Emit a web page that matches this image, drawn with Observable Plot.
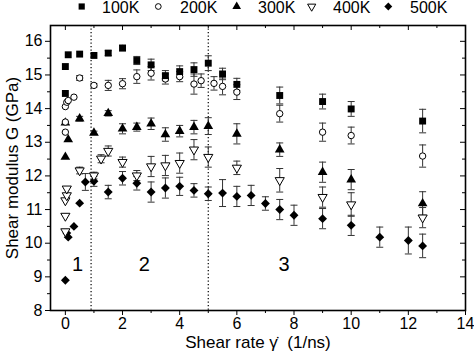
<!DOCTYPE html>
<html><head><meta charset="utf-8">
<script src="https://cdn.jsdelivr.net/npm/d3@7"></script>
<script src="https://cdn.jsdelivr.net/npm/@observablehq/plot@0.6"></script>
<style>
body{margin:0;background:#fff;font-family:"Liberation Sans",Arial,sans-serif;}
#wrap{position:relative;width:474px;height:356px;overflow:hidden;background:#fff;}
#legend{position:absolute;left:0;top:0;}
</style></head><body><div id="wrap"></div>
<script>
// ---- data ----
const x100 = [0, 0, 0.1, 0.5, 1.0, 1.5, 2.0, 2.5, 3.0, 3.5, 4.0, 4.5, 5.0, 5.5, 6.0, 7.5, 9.0, 10.0, 12.5];
const g100 = [14.45, 15.25, 15.6, 15.62, 15.58, 15.65, 15.8, 15.43, 15.3, 14.98, 15.1, 15.16, 15.35, 15.03, 14.72, 14.39, 14.21, 13.99, 13.63];
const e100 = [0, 0, 0, 0, 0, 0.07, 0.08, 0.12, 0.17, 0.15, 0.17, 0.2, 0.22, 0.17, 0.18, 0.25, 0.22, 0.22, 0.35];

const x200 = [0, 0, 0, 0.05, 0.1, 0.3, 0.5, 1.0, 1.5, 2.0, 2.5, 3.0, 3.5, 4.0, 4.5, 4.75, 5.2, 5.5, 6.0, 7.5, 9.0, 10.0, 12.5];
const g200 = [13.3, 13.6, 14.06, 14.19, 14.24, 14.34, 14.91, 14.69, 14.69, 14.74, 14.95, 15.05, 14.88, 14.95, 14.73, 14.83, 14.75, 14.66, 14.49, 13.85, 13.3, 13.2, 12.59];
const e200 = [0, 0, 0, 0, 0, 0, 0.07, 0.05, 0.15, 0.15, 0.2, 0.2, 0.15, 0.15, 0.3, 0.2, 0.2, 0.25, 0.22, 0.25, 0.27, 0.25, 0.33];

const x300 = [0, 0, 0.1, 0.5, 1.0, 1.5, 2.0, 2.5, 3.0, 3.5, 4.0, 4.5, 5.0, 6.0, 7.5, 9.0, 10.0, 12.5];
const g300 = [12.56, 13.58, 13.08, 13.7, 13.28, 13.86, 13.4, 13.45, 13.55, 13.23, 13.33, 13.45, 13.48, 13.25, 12.78, 12.11, 11.89, 11.18];
const e300 = [0, 0, 0, 0.07, 0.05, 0.08, 0.15, 0.12, 0.17, 0.2, 0.17, 0.2, 0.25, 0.3, 0.2, 0.3, 0.3, 0.35];

const x400 = [0, 0, 0, 0.05, 0.05, 0.5, 1.0, 1.25, 1.5, 2.0, 2.5, 3.0, 3.5, 4.0, 4.5, 5.0, 6.0, 7.5, 9.0, 10.0, 12.5];
const g400 = [10.35, 10.81, 11.27, 11.42, 11.62, 12.16, 12.01, 12.51, 12.74, 12.41, 12.01, 12.28, 12.31, 12.38, 12.78, 12.56, 12.24, 11.87, 11.37, 11.15, 10.76];
const e400 = [0, 0, 0, 0, 0, 0.1, 0.1, 0.12, 0.15, 0.15, 0.15, 0.3, 0.3, 0.3, 0.3, 0.3, 0.2, 0.35, 0.3, 0.35, 0.3];

const x500 = [0, 0.05, 0.1, 0.3, 0.5, 0.7, 1.0, 1.5, 2.0, 2.5, 3.0, 3.5, 4.0, 4.5, 5.0, 5.5, 6.0, 6.5, 7.0, 7.5, 8.0, 9.0, 10.0, 11.0, 12.0, 12.5];
const g500 = [8.9, 10.3, 10.18, 10.5, 11.19, 11.82, 11.84, 11.52, 11.93, 11.78, 11.52, 11.64, 11.69, 11.57, 11.47, 11.49, 11.39, 11.42, 11.18, 11.0, 10.83, 10.73, 10.53, 10.18, 10.08, 9.92];
const e500 = [0, 0, 0, 0, 0, 0.25, 0.15, 0.2, 0.2, 0.2, 0.3, 0.3, 0.27, 0.2, 0.2, 0.4, 0.3, 0.3, 0.2, 0.3, 0.3, 0.3, 0.3, 0.3, 0.4, 0.35];

const seriesNames = ["100K", "200K", "300K", "400K", "500K"];
const regionBounds = [0.9, 5.0];
const regionLabels = ["1", "2", "3"];
const regionX = [0.43, 2.76, 7.65];
const regionY = [9.37, 9.37, 9.37];
const xMajor = [0, 2, 4, 6, 8, 10, 12, 14];
const xMinor = [1, 3, 5, 7, 9, 11, 13];
const yMajor = [8, 9, 10, 11, 12, 13, 14, 15, 16];
const yMinor = [8.5, 9.5, 10.5, 11.5, 12.5, 13.5, 14.5, 15.5, 16.5].filter(v => v < 16.47);
const xLabel = "Shear rate \u03B3\u0307  (1/ns)";
const yLabel = "Shear modulus G (GPa)";

// ---- symbols ----
const capSym = {draw(ctx) { ctx.moveTo(-3.5, 0); ctx.lineTo(3.5, 0); }};
const downTri = {draw(ctx, size) {
  const y = Math.sqrt(size / (3 * Math.sqrt(3)));
  ctx.moveTo(0, 2 * y); ctx.lineTo(-Math.sqrt(3) * y, -y); ctx.lineTo(Math.sqrt(3) * y, -y); ctx.closePath();
}};
const styles = {
  "100K": {symbol: "square", fill: "black", stroke: "none", r: 3.9},
  "200K": {symbol: "circle", fill: "white", stroke: "black", r: 3.2},
  "300K": {symbol: "triangle", fill: "black", stroke: "none", r: 3.6},
  "400K": {symbol: downTri, fill: "white", stroke: "black", r: 3.4},
  "500K": {symbol: "diamond2", fill: "black", stroke: "none", r: 4.0}
};
const seriesData = [[x100, g100, e100], [x200, g200, e200], [x300, g300, e300], [x400, g400, e400], [x500, g500, e500]];
const rows = seriesData.flatMap(([xs, gs, es], k) => xs.map((x, i) => ({series: seriesNames[k], x, g: gs[i], e: es[i]})));
const errRows = rows.filter(d => d.e > 0);
const caps = errRows.flatMap(d => [{x: d.x, y: d.g - d.e}, {x: d.x, y: d.g + d.e}]);

const W = 474, H = 356, mL = 50, mR = 9, mT = 25, mB = 46;
const pw = W - mL - mR, ph = H - mT - mB;
const font = "Liberation Sans, Arial, sans-serif";

const plot = Plot.plot({
  width: W, height: H,
  marginLeft: mL, marginRight: mR, marginTop: mT, marginBottom: mB,
  style: {fontFamily: font, fontSize: "16px", color: "black", background: "white"},
  x: {domain: [-0.52, 14], label: null},
  y: {domain: [8, 16.47], label: null},
  marks: [
    Plot.ruleX(regionBounds, {x: d => d, stroke: "black", strokeWidth: 1.2, strokeDasharray: "1.3,2.2"}),
    Plot.ruleX(errRows, {x: "x", y1: d => d.g - d.e, y2: d => d.g + d.e, stroke: "#333", strokeWidth: 1}),
    Plot.dot(caps, {x: "x", y: "y", symbol: capSym, r: 4, stroke: "#333", strokeWidth: 1}),
    ...seriesNames.slice().reverse().map(name => Plot.dot(rows.filter(d => d.series === name), {
      x: "x", y: "g", symbol: styles[name].symbol, r: styles[name].r,
      fill: styles[name].fill, stroke: styles[name].stroke, strokeWidth: 1
    })),
    Plot.text(regionLabels, {x: (d, i) => regionX[i], y: (d, i) => regionY[i], text: d => d, fontSize: 20, fill: "black"}),
    Plot.frame({stroke: "black", strokeWidth: 1.6}),
    Plot.axisX(xMajor, {tickSize: 5, tickPadding: 2, fontSize: 16, tickFormat: d => String(d), stroke: "black"}),
    Plot.axisX(xMinor, {tickSize: 3, tickFormat: () => "", stroke: "black"}),
    Plot.axisY(yMajor, {tickSize: 5, tickPadding: 3, fontSize: 16, tickFormat: d => String(d), stroke: "black"}),
    Plot.axisY(yMinor, {tickSize: 3, tickFormat: () => "", stroke: "black"}),
    Plot.tickX(xMajor, {x: d => d, insetBottom: ph - 5, stroke: "black"}),
    Plot.tickX(xMinor, {x: d => d, insetBottom: ph - 3, stroke: "black"}),
    Plot.tickY(yMajor, {y: d => d, insetLeft: pw - 5, stroke: "black"}),
    Plot.tickY(yMinor, {y: d => d, insetLeft: pw - 3, stroke: "black"}),
    Plot.text([xLabel], {frameAnchor: "bottom", lineAnchor: "middle", textAnchor: "middle", dy: 32, fontSize: 17, fill: "black"}),
    Plot.text([yLabel], {frameAnchor: "left", lineAnchor: "middle", textAnchor: "middle", dx: -38, rotate: -90, fontSize: 17, fill: "black"})
  ]
});
const wrap = document.getElementById("wrap");
wrap.appendChild(plot);

// ---- legend (above the plot frame) ----
const legendPos = [[81.7, 102], [158.3, 180], [236.7, 258], [311.7, 333], [388.3, 410]];
const lg = d3.select(wrap).append("svg").attr("id", "legend").attr("width", W).attr("height", 22)
  .style("font-family", font).style("font-size", "16px");
seriesNames.forEach((name, i) => {
  const st = styles[name];
  const symType = {square: d3.symbolSquare, circle: d3.symbolCircle, triangle: d3.symbolTriangle, diamond2: d3.symbolDiamond2}[st.symbol] || st.symbol;
  lg.append("path").attr("d", d3.symbol(symType, Math.PI * st.r * st.r * 0.8)())
    .attr("transform", `translate(${legendPos[i][0]},6.5)`)
    .attr("fill", st.fill).attr("stroke", st.stroke);
  lg.append("text").attr("x", legendPos[i][1]).attr("y", 12.5).attr("fill", "black").text(name);
});
</script></body></html>
